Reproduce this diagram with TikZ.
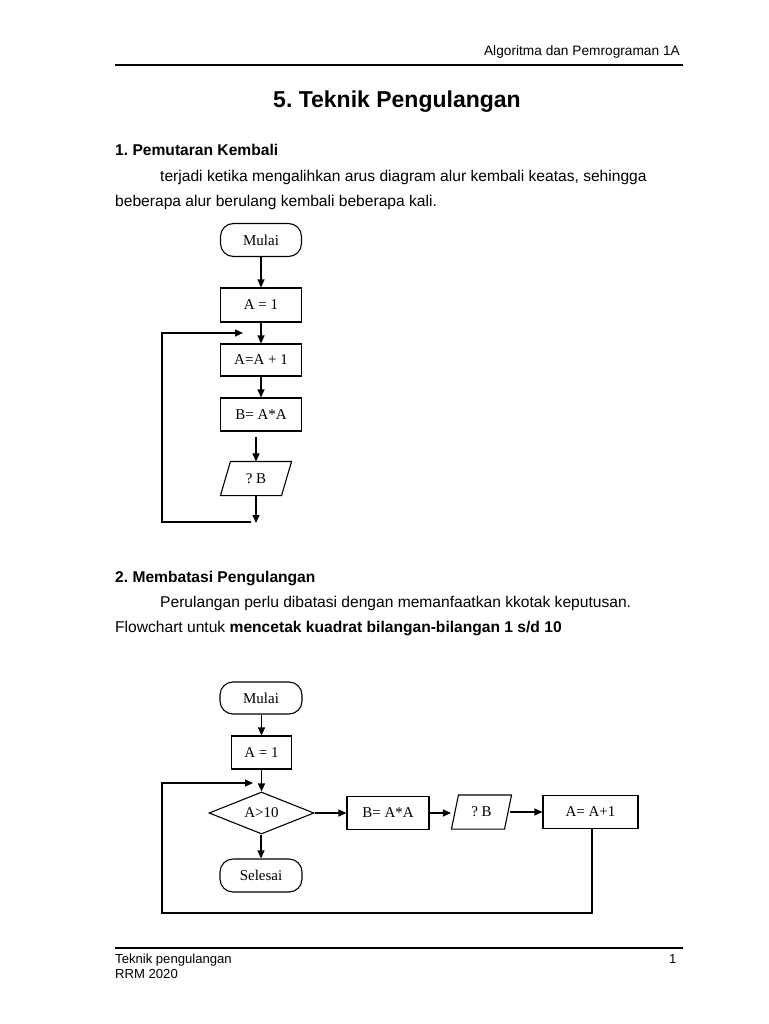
\documentclass[tikz,border=0pt]{standalone}
\usepackage{fontspec}
\setmainfont{Liberation Sans}
\newfontfamily\fcfont{Liberation Serif}
\usetikzlibrary{shapes.geometric,arrows.meta}
\frenchspacing
\begin{document}
\begin{tikzpicture}[x=1pt,y=-1pt,
  txt/.style={inner sep=0pt, anchor=base west, font=\fontsize{15.6}{18}\selectfont},
  hdr/.style={inner sep=0pt, font=\fontsize{13.7}{16}\selectfont},
  ftr/.style={inner sep=0pt, anchor=base west, font=\fontsize{13.1}{15}\selectfont},
  rule/.style={line width=1.3pt},
  fc/.style={line width=1.1pt, font=\fcfont\fontsize{15}{17}\selectfont, inner sep=0pt},
  term/.style={fc, draw, rounded corners=13pt, minimum width=81pt, minimum height=33pt},
  proc/.style={fc, draw, rectangle, minimum width=81pt, minimum height=33pt},
  io/.style={fc, rectangle, minimum width=60pt, minimum height=33pt},
  dec/.style={fc, draw, diamond, minimum width=105pt, minimum height=42pt, aspect=2.5},
  arr/.style={line width=1.1pt, -{Triangle[length=8pt,width=7pt]}},
  ln/.style={line width=1.1pt}
]
\useasboundingbox[fill=white] (0,0) rectangle (768,1024);

% header
\node[hdr, anchor=base east] (head) at (680,56) {Algoritma dan Pemrograman 1A};
\coordinate (hl1) at (115,65); \coordinate (hl2) at (683,65);
\draw[rule] (hl1) -- (hl2);
\node[inner sep=0pt, anchor=base, font=\bfseries\fontsize{23}{27}\selectfont] (title) at (397,108) {5. Teknik Pengulangan};

% section 1
\node[txt, font=\bfseries\fontsize{15.6}{18}\selectfont] (s1h) at (115,156) {1. Pemutaran Kembali};
\node[txt] (s1a) at (160,182) {terjadi ketika mengalihkan arus diagram alur kembali keatas, sehingga};
\node[txt] (s1b) at (115,207) {beberapa alur berulang kembali beberapa kali.};

% flowchart 1
\node[term] (m1) at (261,240) {Mulai};
\node[proc, minimum height=34pt] (a1) at (261,305) {A = 1};
\node[proc, minimum height=32pt] (a2) at (261,360) {A=A + 1};
\node[proc] (b1) at (261,414.5) {B= A*A};
\node[io] (p1) at (256,478.5) {? B};
\draw[ln] ([xshift=-5pt]p1.south west) -- ([xshift=5pt]p1.north west)
          -- ([xshift=5pt]p1.north east) -- ([xshift=-5pt]p1.south east) -- cycle;
\coordinate (c1) at (256,523);
\coordinate (l1) at (251,522);
\coordinate (l1b) at (162,333);
\coordinate (l2) at (243,333);
\coordinate (b1s) at (256,437);

\draw[arr] (m1.south) -- (a1.north);
\draw[arr] (a1.south) -- (a2.north);
\draw[arr] (a2.south) -- (b1.north);
\draw[arr] (b1s) -- (p1.north);
\draw[arr] (p1.south) -- (c1);
\draw[arr] (l1) -| (l1b) -- (l2);

% section 2
\node[txt, font=\bfseries\fontsize{15.6}{18}\selectfont] (s2h) at (115,582) {2. Membatasi Pengulangan};
\node[txt] (s2a) at (160,607) {Perulangan perlu dibatasi dengan memanfaatkan kkotak keputusan.};
\node[txt] (s2b) at (115,632) {Flowchart untuk \textbf{mencetak kuadrat bilangan-bilangan 1 s/d 10}};

% flowchart 2
\node[term, minimum width=82pt, minimum height=32pt] (m2) at (261,698) {Mulai};
\node[proc, minimum width=60pt] (a3) at (261.5,752.5) {A = 1};
\node[dec] (d1) at (261.5,813) {A>10};
\node[term, minimum width=82pt] (sel) at (261,875.5) {Selesai};
\node[proc, minimum width=82pt] (b2) at (388,813) {B= A*A};
\node[io, minimum width=52pt] (p2) at (481.5,812) {? B};
\draw[ln] ([xshift=-3.5pt]p2.south west) -- ([xshift=3.5pt]p2.north west)
          -- ([xshift=3.5pt]p2.north east) -- ([xshift=-3.5pt]p2.south east) -- cycle;
\node[proc, minimum width=95pt] (a4) at (590.5,812) {A= A+1};
\coordinate (l3) at (162,913);
\coordinate (l3b) at (162,783);
\coordinate (l4) at (253,783);

\draw[arr] (m2.south -| a3.north) -- (a3.north);
\draw[arr] (a3.south) -- (d1.north);
\draw[arr] (d1.south -| sel.north) -- (sel.north);
\draw[arr] (d1.east) -- (b2.west);
\draw[arr] (b2.east) -- ([xshift=-4pt]b2.east -| p2.west);
\draw[arr] ([xshift=2pt]p2.east) -- (p2.east -| a4.west);
\draw[arr] ([xshift=1.5pt]a4.south) |- (l3) -- (l3b) -- (l4);

% footer
\coordinate (fl1) at (115,948); \coordinate (fl2) at (683,948);
\draw[rule] (fl1) -- (fl2);
\node[ftr] (f1) at (115,963) {Teknik pengulangan};
\node[ftr] (f2) at (115,978) {RRM 2020};
\node[ftr] (f3) at (669,963) {1};
\end{tikzpicture}
\end{document}
